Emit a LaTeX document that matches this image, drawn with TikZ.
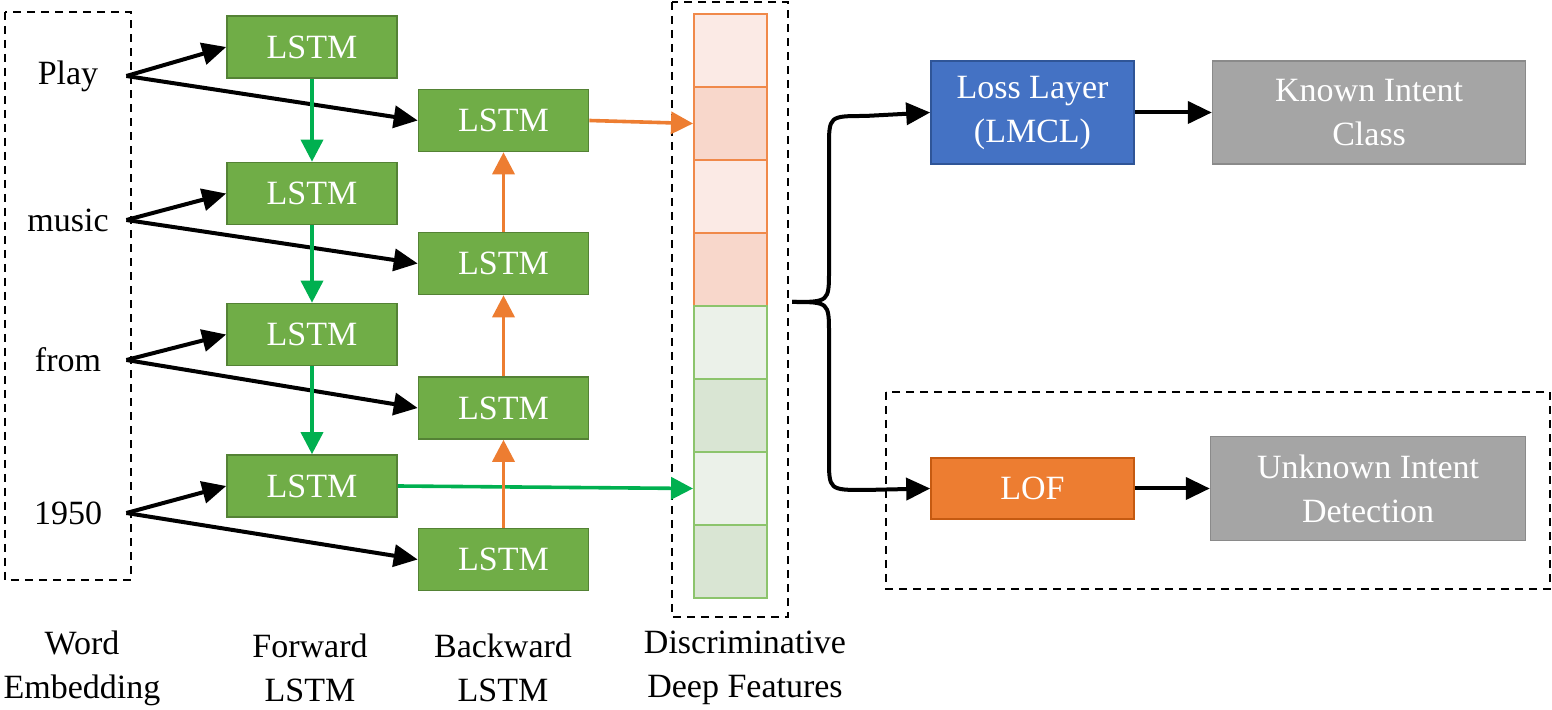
\documentclass[tikz,border=0pt]{standalone}
\usepackage{fontspec}
\setmainfont{LiberationSerif}[Extension=.ttf, UprightFont=*-Regular, BoldFont=*-Bold]
\usetikzlibrary{positioning}
\usetikzlibrary{arrows.meta}

\definecolor{lstmgreen}{HTML}{70AD47}
\definecolor{lstmedge}{HTML}{548235}
\definecolor{fwdgreen}{HTML}{00B050}
\definecolor{bwdorange}{HTML}{ED7D31}
\definecolor{lossblue}{HTML}{4472C4}
\definecolor{lossedge}{HTML}{2F5597}
\definecolor{lofedge}{HTML}{C55A11}
\definecolor{outgray}{HTML}{A5A5A5}
\definecolor{outedge}{HTML}{8A8A8A}
\definecolor{orlight}{HTML}{FBEAE5}
\definecolor{ordark}{HTML}{F8D7CB}
\definecolor{oredge}{HTML}{F0894A}
\definecolor{grlight}{HTML}{EBF1E9}
\definecolor{grdark}{HTML}{D9E5D3}
\definecolor{gredge}{HTML}{8CC46C}

\begin{document}
\begin{tikzpicture}[x=0.5pt, y=-0.5pt, every node/.style={font=\fontsize{17}{22}\selectfont},
    lstm/.style={draw=lstmedge, fill=lstmgreen, line width=0.8pt, text=white, minimum width=85pt, minimum height=31pt, inner sep=0pt},
    word/.style={minimum width=58pt, inner sep=0pt},
    cell/.style={line width=1pt, minimum width=36.5pt, minimum height=36.5pt, inner sep=0pt},
    outbox/.style={line width=0.8pt, text=white, align=center, inner sep=0pt},
    coltitle/.style={align=center},
    dashbox/.style={line width=1pt, dash pattern=on 4pt off 3pt},
    blk/.style={line width=2pt, -{Triangle[length=12pt,width=11pt]}},
    garrow/.style={draw=fwdgreen, line width=1.8pt, -{Triangle[length=11pt,width=11pt]}},
    oarrow/.style={draw=bwdorange, line width=1.8pt, -{Triangle[length=11pt,width=11pt]}}]
    \useasboundingbox (0,0) rectangle (1552,710);

    % words
    \draw[dashbox] (5,12) rectangle (131,580);
    \foreach \w/\y [count=\i] in {Play/76, music/220, from/360, 1950/513}
        \node[word] (w\i) at (68,\y) {\w};

    % forward and backward LSTM
    \foreach \y [count=\i] in {47,193.5,334.5,486}
        \node[lstm] (f\i) at (312,\y) {LSTM};
    \foreach \y [count=\i] in {120.5,263.5,408,559.5}
        \node[lstm] (b\i) at (503.5,\y) {LSTM};

    % feature vector
    \foreach \i/\fillc/\edgec in {1/orlight/oredge, 2/ordark/oredge, 3/orlight/oredge, 4/ordark/oredge, 5/grlight/gredge, 6/grdark/gredge, 7/grlight/gredge, 8/grdark/gredge}
        \node[cell, fill=\fillc, draw=\edgec] (c\i) at (730.5,{14+73*(\i-0.5)}) {};
    \draw[dashbox] (672,2) rectangle (788,617);

    \foreach \i in {1,...,4} {
        \draw[blk] (w\i.east) -- (f\i.west);
        \draw[blk] (w\i.east) -- (b\i.west);
    }
    \foreach \i/\j in {1/2,2/3,3/4}
        \draw[garrow] (f\i) -- (f\j);
    \draw[garrow] (f4.east) -- (c7.west);
    \foreach \i/\j in {4/3,3/2,2/1}
        \draw[oarrow] (b\i) -- (b\j);
    \draw[oarrow] (b1.east) -- (c2.west);

    % classifier side
    \node[outbox, fill=lossblue, draw=lossedge, minimum width=101.5pt, minimum height=51.5pt] (loss) at (1032.5,112.5) {Loss Layer\\(LMCL)};
    \node[outbox, fill=outgray, draw=outedge, minimum width=156.5pt, minimum height=51.5pt, right=38.5pt of loss] (known) {Known Intent\\Class};
    \node[outbox, fill=bwdorange, draw=lofedge, minimum width=101.5pt, minimum height=30.5pt] (lof) at (1032.5,488.5) {LOF};
    \node[outbox, fill=outgray, draw=outedge, minimum width=157.5pt, minimum height=52pt, right=37.5pt of lof] (unknown) {Unknown Intent\\Detection};
    \draw[dashbox] (886,392) rectangle (1550,589);

    \coordinate (tip) at (792,302);
    \draw[blk] (tip) .. controls (829,302) .. (829,270) -- (829,148) .. controls (829,116) .. (865,116) -- (loss.west);
    \draw[blk] (tip) .. controls (829,302) .. (829,334) -- (829,458) .. controls (829,490) .. (865,490) -- (lof.west);
    \draw[blk] (loss) -- (known);
    \draw[blk] (lof) -- (unknown);

    % column titles
    \node[coltitle] (t1) at (82,668) {Word\\Embedding};
    \node[coltitle] (t2) at (310,668) {Forward\\LSTM};
    \node[coltitle] (t3) at (503,668) {Backward\\LSTM};
    \node[coltitle] (t4) at (745,668) {Discriminative\\Deep Features};
\end{tikzpicture}
\end{document}
